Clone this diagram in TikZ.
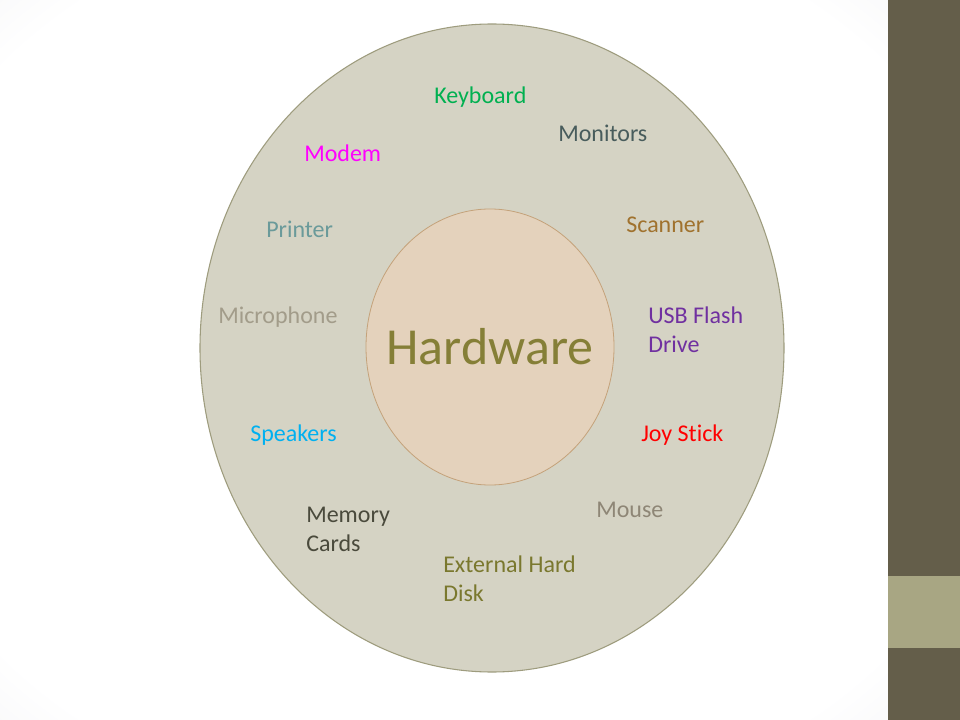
\documentclass[tikz,border=0pt]{standalone}
\usepackage{fontspec}
\setmainfont{Carlito}[Ligatures=NoCommon]
\usetikzlibrary{math,shapes.geometric}

\definecolor{bgedge}{HTML}{E6E6EA}
\definecolor{bardark}{HTML}{645E4A}
\definecolor{barlight}{HTML}{A8A683}
\definecolor{ringfill}{HTML}{D5D3C4}
\definecolor{ringline}{HTML}{9E9C7E}
\definecolor{corefill}{HTML}{E4D2BC}
\definecolor{coreline}{HTML}{C4A27A}
\definecolor{coretext}{HTML}{857F37}
\definecolor{cKeyboard}{HTML}{00B050}
\definecolor{cMonitors}{HTML}{485C5C}
\definecolor{cModem}{HTML}{FF00FF}
\definecolor{cPrinter}{HTML}{6A9A9A}
\definecolor{cScanner}{HTML}{A0722E}
\definecolor{cMicro}{HTML}{A29C8A}
\definecolor{cUSB}{HTML}{7030A0}
\definecolor{cSpeakers}{HTML}{00B0F0}
\definecolor{cJoy}{HTML}{FF0000}
\definecolor{cMemory}{HTML}{4A4A3C}
\definecolor{cMouse}{HTML}{8E8676}
\definecolor{cDisk}{HTML}{7A782E}

\pgfdeclareradialshading{slidebg}{\pgfpoint{0bp}{0bp}}{color(0bp)=(white); color(32bp)=(white); color(50bp)=(bgedge)}

\tikzset{
    device/.style = {anchor = base west, inner sep = 0pt, align = left,
        font = \fontsize{18}{21.75}\selectfont},
}

\begin{document}
\begin{tikzpicture}[x = 0.75pt, y = -0.75pt]
    \tikzmath{
        \wval = 960;
        \hval = 720;
        \barx = 888;
        \cx = 492;
        \cy = 348;
    }

\useasboundingbox (0,0) rectangle (\wval,\hval);

% fondo
\shade[shading = slidebg] (0,0) rectangle (\barx,\hval);

% barra lateral
\fill[bardark]  (\barx,0)   rectangle (\wval,\hval);
\fill[barlight] (\barx,576) rectangle (\wval,648);

% anillo exterior
\draw[ringline, fill = ringfill, line width = 0.8pt] (\cx,\cy) ellipse [x radius = 292, y radius = 324];

% nucleo
\node[ellipse,
        draw = coreline,
        fill = corefill,
        line width = 0.6pt,
        inner sep = 0pt,
        minimum width = 186pt,
        minimum height = 207pt] (hardware) at (490,347) {};
\node[anchor = base, inner sep = 0pt, text = coretext,
        font = \fontsize{39}{46}\selectfont] (hwlabel) at (490,364) {Hardware};

% dispositivos (base = ultima linea)
\node[device, text = cKeyboard] (keyboard)   at (434,104) {Keyboard};
\node[device, text = cMonitors] (monitors)   at (558,142) {Monitors};
\node[device, text = cModem]    (modem)      at (304,162) {Modem};
\node[device, text = cPrinter]  (printer)    at (266,238) {Printer};
\node[device, text = cScanner]  (scanner)    at (626,233) {Scanner};
\node[device, text = cMicro]    (microphone) at (218,323) {Microphone};
\node[device, text = cUSB]      (usb)        at (648,352) {USB Flash\\Drive};
\node[device, text = cSpeakers] (speakers)   at (250,441) {Speakers};
\node[device, text = cJoy]      (joystick)   at (641,441) {Joy Stick};
\node[device, text = cMemory]   (memory)     at (306,551) {Memory\\Cards};
\node[device, text = cMouse]    (mouse)      at (596,517) {Mouse};
\node[device, text = cDisk]     (disk)       at (443,601) {External Hard\\Disk};

\end{tikzpicture}
\end{document}
